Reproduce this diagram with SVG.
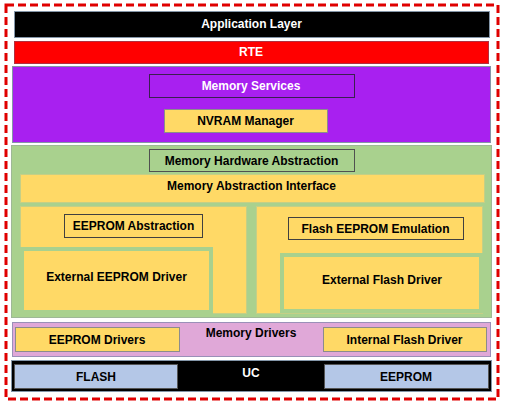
<svg xmlns="http://www.w3.org/2000/svg" width="512" height="404" viewBox="0 0 512 404">
<style>
text{font-family:"Liberation Sans",Arial,sans-serif;font-weight:bold;font-size:12px;text-anchor:middle}
.w{fill:#ffffff}
.k{fill:#000000}
.yl{fill:#FFD966;stroke:#8C8C8C;stroke-width:1}
.yd{fill:#FFD966;stroke:#404040;stroke-width:1}
.yg{fill:#FFD966;stroke:#A9D18E;stroke-width:4}
.yr{fill:#FFD966;stroke:#C5CF86;stroke-width:1}
.bl{fill:#B4C7E7;stroke:#555555;stroke-width:1}
</style>
<rect width="512" height="404" fill="#ffffff"/>
<rect x="6" y="5" width="492" height="394" fill="none" stroke="#E00000" stroke-width="3" stroke-dasharray="8 4"/>
<g id="app"><rect x="14.5" y="11.5" width="475" height="26" fill="#000000" stroke="#8496A8" stroke-width="1"/><text class="w" x="251.5" y="28">Application Layer</text></g>
<g id="rte"><rect x="14.5" y="41.5" width="474" height="22" fill="#FF0000" stroke="#B03040" stroke-width="1"/><text class="w" x="251" y="56">RTE</text></g>
<g id="services"><rect x="12.5" y="66.5" width="478" height="76" fill="#A820F0" stroke="#8496A8" stroke-width="1"/>
<g id="memsvc"><rect x="149.5" y="74.5" width="205" height="23" fill="#A820F0" stroke="#3A2050" stroke-width="1"/><text class="w" x="251" y="90">Memory Services</text></g>
<g id="nvram"><rect x="164.5" y="109.5" width="163" height="23" class="yl"/><text class="k" x="245.5" y="125">NVRAM Manager</text></g></g>
<g id="mha"><rect x="11.5" y="145.5" width="480" height="172" fill="#A9D18E" stroke="#9EB896" stroke-width="1"/>
<g id="mhatitle"><rect x="149.5" y="149.5" width="205" height="22" fill="#A9D18E" stroke="#505050" stroke-width="1"/><text class="k" x="251.5" y="165">Memory Hardware Abstraction</text></g>
<g id="mai"><rect x="20.5" y="174.5" width="464" height="28" class="yr"/><text class="k" x="251.5" y="190">Memory Abstraction Interface</text></g>
<g id="eepabsregion"><rect x="20.5" y="206.5" width="226" height="107" class="yr"/></g>
<g id="eepabs"><rect x="64.5" y="214.5" width="138" height="23" class="yd"/><text class="k" x="133.5" y="230">EEPROM Abstraction</text></g>
<g id="exteep"><rect x="22" y="249" width="189" height="63" class="yg"/><text class="k" x="116.5" y="281">External EEPROM Driver</text></g>
<g id="feeregion"><rect x="256.5" y="206.5" width="226" height="107" class="yr"/></g>
<g id="fee"><rect x="288.5" y="217.5" width="175" height="22" class="yd"/><text class="k" x="375.5" y="233">Flash EEPROM Emulation</text></g>
<g id="extflash"><rect x="282" y="255" width="199" height="56" class="yg"/><text class="k" x="382" y="284">External Flash Driver</text></g></g>
<g id="drivers"><rect x="12.5" y="322.5" width="478" height="34" fill="#E0A8D8" stroke="#9A90B8" stroke-width="1"/><text class="k" x="251" y="337">Memory Drivers</text>
<g id="eepdrv"><rect x="15.5" y="327.5" width="164" height="24" class="yl"/><text class="k" x="97" y="344">EEPROM Drivers</text></g>
<g id="intflash"><rect x="323.5" y="327.5" width="163" height="24" class="yl"/><text class="k" x="404.5" y="344">Internal Flash Driver</text></g></g>
<g id="uc"><rect x="11.5" y="360.5" width="480" height="31" fill="#000000" stroke="#8496A8" stroke-width="1"/><text class="w" x="251" y="377">UC</text>
<g id="flash"><rect x="14.5" y="364.5" width="163" height="24" class="bl"/><text class="k" x="96" y="381">FLASH</text></g>
<g id="eeprom"><rect x="324.5" y="364.5" width="164" height="24" class="bl"/><text class="k" x="406" y="381">EEPROM</text></g></g>
<g id="connectors"></g>
</svg>
